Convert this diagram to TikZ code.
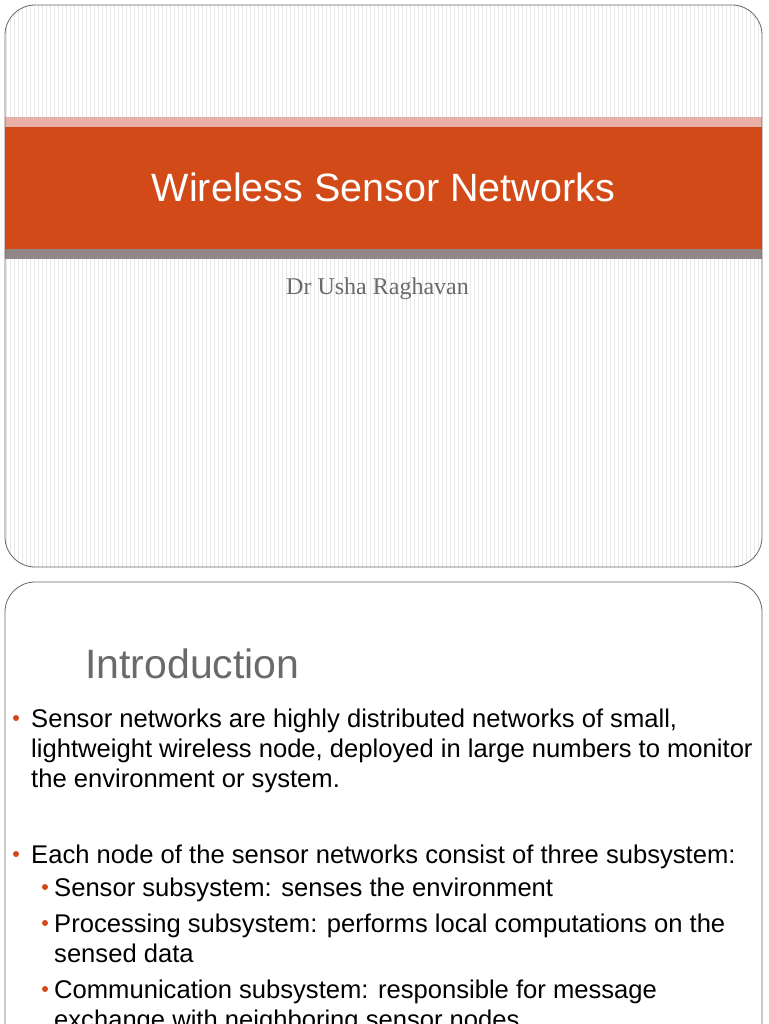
\documentclass[tikz,border=0pt]{standalone}
\usepackage{fontspec}
\setmainfont{Liberation Sans}
\newfontfamily\serifx{Liberation Serif}
\definecolor{orng}{HTML}{D24A18}
\definecolor{pinkb}{HTML}{E8B0A6}
\definecolor{grayb}{HTML}{918787}
\definecolor{txtg}{HTML}{6A6A6A}
\definecolor{stripe}{HTML}{E8E8E8}
\begin{document}
\begin{tikzpicture}[x=1pt,y=-1pt,
  body/.style={anchor=base west,inner sep=0pt,font=\fontsize{25.6}{28}\selectfont,text=black},
  dot/.style={circle,fill=orng,inner sep=0pt,minimum size=6pt}]
\useasboundingbox (0,0) rectangle (768,1024);
\fill[white] (0,0) rectangle (768,1024);
% slide 1
\begin{scope}
\clip[rounded corners=30pt] (5,5) rectangle (762,567);
\fill[white] (5,5) rectangle (762,567);
\foreach \i in {0,...,190} {\draw[stripe,line width=0.7pt] (6+4*\i,5) -- (6+4*\i,567);}
\fill[pinkb] (5,117) rectangle (762,127);
\fill[orng] (5,127) rectangle (762,249);
\fill[grayb] (5,249) rectangle (762,259);
\end{scope}
\draw[gray!80!black,line width=0.8pt,rounded corners=30pt] (5,5) rectangle (762,567);
\node[text=white,font=\fontsize{39.5}{44}\selectfont] (title) at (383.5,187) {Wireless Sensor Networks};
\node[text=txtg,font=\serifx\fontsize{24}{28}\selectfont] (sub) at (377.5,289) {Dr Usha Raghavan};
% slide 2
\draw[gray!80!black,line width=0.8pt,rounded corners=30pt] (5,1040) -- (5,582) -- (762,582) -- (762,1040);
\node[anchor=base west,inner sep=0pt,text=txtg,font=\fontsize{41}{44}\selectfont] (intro) at (85,678) {Introduction};
\node[dot] (d1) at (16,718) {};
\node[body] (l1) at (31,727) {Sensor networks are highly distributed networks of small,};
\node[body] (l2) at (31,757) {lightweight wireless node, deployed in large numbers to monitor};
\node[body] (l3) at (31,787) {the environment or system.};
\node[dot] (d2) at (16,854) {};
\node[body] (l4) at (31,863) {Each node of the sensor networks consist of three subsystem:};
\node[dot] (d3) at (45,887) {};
\node[body] (l5) at (54,896) {Sensor subsystem: senses the environment};
\node[dot] (d4) at (45,923) {};
\node[body] (l6) at (54,932) {Processing subsystem: performs local computations on the};
\node[body] (l7) at (54,962) {sensed data};
\node[dot] (d5) at (45,989) {};
\node[body] (l8) at (54,998) {Communication subsystem: responsible for message};
\node[body] (l9) at (54,1028) {exchange with neighboring sensor nodes};
\end{tikzpicture}
\end{document}
